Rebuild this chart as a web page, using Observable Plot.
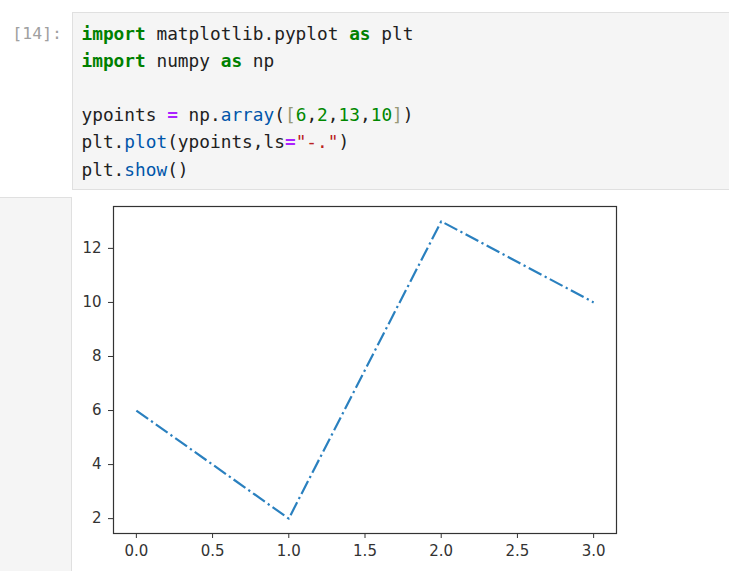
<!DOCTYPE html>
<html>
<head>
<meta charset="utf-8">
<script src="https://cdn.jsdelivr.net/npm/d3@7"></script>
<script src="https://cdn.jsdelivr.net/npm/@observablehq/plot@0.6"></script>
<style>
  html, body { margin: 0; padding: 0; background: #fff; width: 729px; height: 571px; overflow: hidden; }
  #page { position: relative; width: 729px; height: 571px; }
  #codebox { position: absolute; left: 72px; top: 12px; width: 680px; height: 176px;
             background: #f5f5f5; border: 1px solid #e0e0e0; box-sizing: content-box; }
  #prompt { position: absolute; left: 0px; width: 62px; top: 19.5px; text-align: right;
            font-family: "DejaVu Sans Mono", monospace; font-size: 16.5px; line-height: 27.2px; color: #a0a0a0; }
  #code { position: absolute; left: 81.5px; top: 19.5px; margin: 0;
          font-family: "DejaVu Sans Mono", monospace; font-size: 17.8px; line-height: 27.2px; color: #212121; }
  .kw { color: #008000; font-weight: bold; }
  .op { color: #aa22ff; font-weight: bold; }
  .num { color: #008800; }
  .str { color: #ba2121; }
  .prop { color: #0055aa; }
  .br { color: #999977; }
  #outstrip { position: absolute; left: 0; top: 197px; width: 71px; height: 380px;
              background: #f5f5f5; border-top: 1px solid #e0e0e0; border-right: 1px solid #e0e0e0; }
  #chart { position: absolute; left: 0; top: 197px; }
</style>
</head>
<body>
<div id="page">
  <div id="codebox"></div>
  <div id="prompt">[14]:</div>
<pre id="code"><span class="kw">import</span> matplotlib.pyplot <span class="kw">as</span> plt
<span class="kw">import</span> numpy <span class="kw">as</span> np

ypoints <span class="op">=</span> np.<span class="prop">array</span>(<span class="br">[</span><span class="num">6</span>,<span class="num">2</span>,<span class="num">13</span>,<span class="num">10</span><span class="br">]</span>)
plt.<span class="prop">plot</span>(ypoints,ls<span class="op">=</span><span class="str">"-."</span>)
plt.<span class="prop">show</span>()</pre>
  <div id="outstrip"></div>
  <div id="chart"></div>
</div>
<script>
const xs = [0, 1, 2, 3];
const ypoints = [6, 2, 13, 10];
const xTicks = [0, 0.5, 1, 1.5, 2, 2.5, 3];
const yTicks = [2, 4, 6, 8, 10, 12];

const data = xs.map((x, i) => ({x, y: ypoints[i]}));

const chart = Plot.plot({
  width: 729,
  height: 374,
  marginLeft: 113,
  marginRight: 113,
  marginTop: 9,
  marginBottom: 38,
  style: {fontFamily: "DejaVu Sans", fontSize: "15px", color: "#333", background: "transparent"},
  x: {domain: [-0.15, 3.15], ticks: xTicks, tickFormat: d3.format(".1f"), tickSize: 5, tickPadding: 7, label: null},
  y: {domain: [1.45, 13.55], ticks: yTicks, tickSize: 5, tickPadding: 7, label: null},
  marks: [
    Plot.frame({stroke: "#333", strokeWidth: 1.2}),
    Plot.line(data, {x: "x", y: "y", stroke: "#2a80bf", strokeWidth: 2.2,
      strokeDasharray: "14.4,3.6,2.25,3.6", strokeLinecap: "butt", strokeLinejoin: "round"})
  ]
});
document.getElementById("chart").appendChild(chart);
</script>
</body>
</html>
